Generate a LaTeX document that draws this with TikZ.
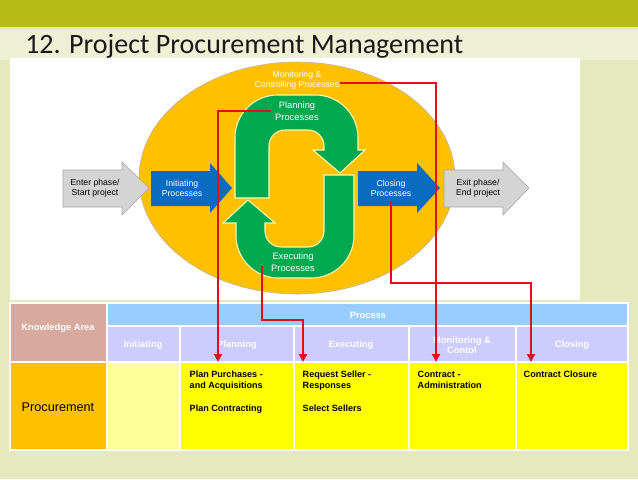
\documentclass[tikz,border=0pt]{standalone}
\usepackage{fontspec}
\setmainfont{Liberation Sans}
\newfontfamily\titlefont{Carlito}
\usetikzlibrary{arrows.meta}
\definecolor{olive}{HTML}{B5BA14}
\definecolor{bgl}{HTML}{E6E8BE}
\definecolor{ttl}{HTML}{EEF0D6}
\definecolor{ell}{HTML}{FFC000}
\definecolor{grn}{HTML}{00A84F}
\definecolor{blu}{HTML}{0A6CC0}
\definecolor{gry}{HTML}{D4D4D4}
\definecolor{rd}{HTML}{E0101A}
\definecolor{hdr}{HTML}{99CCFF}
\definecolor{lav}{HTML}{CCCCFF}
\definecolor{rose}{HTML}{D9A89E}
\definecolor{orn}{HTML}{FFC000}
\definecolor{pyl}{HTML}{FFFF99}
\definecolor{yl}{HTML}{FFFF00}
\begin{document}
\begin{tikzpicture}[x=0.75pt,y=-0.75pt,
 lbl/.style={align=center,font=\fontsize{6.5}{7.5}\selectfont},
 wl/.style={lbl,text=white},
 cell/.style={draw=white,line width=1.2pt},
 btxt/.style={anchor=north west,align=left,font=\fontsize{6.8}{8.5}\selectfont\bfseries},
 hw/.style={text=white,font=\fontsize{7}{8}\selectfont\bfseries,align=center},
 red/.style={draw=rd,line width=1.5pt},
 redarr/.style={red,-{Triangle[length=6pt,width=6pt]}}]
\useasboundingbox (0,0) rectangle (638,479);
\fill[bgl] (0,0) rectangle (638,479);
\fill[ttl] (0,30) rectangle (638,60);
\fill[olive] (0,0) rectangle (638,27);
\fill[white] (10,58) rectangle (580,300);
\node[anchor=base west,font=\titlefont\fontsize{21}{23}\selectfont,inner sep=0,text=black!90] (title) at (25,53) {12. Project Procurement Management};
% ellipse
\fill[ell,draw=gray!60] (297,178) ellipse [x radius=158,y radius=116];
% gray arrows
\fill[gry,draw=gray!70] (63,170) -- (122,170) -- (122,162) -- (149,188) -- (122,215) -- (122,207) -- (63,207) -- cycle;
\fill[gry,draw=gray!70] (444,170) -- (503,170) -- (503,162) -- (529,188) -- (503,215) -- (503,207) -- (444,207) -- cycle;
% blue arrows
\fill[blu] (151,171) -- (210,171) -- (210,163) -- (232,188) -- (210,213) -- (210,206) -- (151,206) -- cycle;
\fill[blu] (358,171) -- (417,171) -- (417,163) -- (440,188) -- (417,213) -- (417,206) -- (358,206) -- cycle;
% green
\filldraw[grn,draw=yellow!30,line width=0.8pt] (235,198) [rounded corners=32] -- (235,95) -- (358,95) [sharp corners] -- (358,150) -- (365,150) -- (340,173) -- (313,150) -- (324,150) [rounded corners=12] -- (324,130) -- (269,130) [sharp corners] -- (269,198) -- cycle;
\filldraw[grn,draw=yellow!30,line width=0.8pt] (324,175) -- (354,175) [rounded corners=32] -- (354,278) -- (236,278) [sharp corners] -- (236,223) -- (223,223) -- (248,200) -- (275,223) -- (265,223) [rounded corners=12] -- (265,247) -- (324,247) [sharp corners] -- cycle;
% labels
\node[wl] (mon) at (297,80) {Monitoring \&\\Controlling Processes};
\node[wl,font=\fontsize{7}{8.5}\selectfont] (pla) at (297,111) {Planning\\Processes};
\node[wl,font=\fontsize{7}{8.5}\selectfont] (exe) at (293,262) {Executing\\Processes};
\node[wl] (ini) at (182,188) {Initiating\\Processes};
\node[wl] (clo) at (391,188) {Closing\\Processes};
\node[lbl] (ent) at (95,188) {Enter phase/\\Start project};
\node[lbl] (exi) at (478,188) {Exit phase/\\End project};
% table
\fill[cell,fill=rose] (10,303) rectangle (107,362);
\fill[cell,fill=hdr] (107,303) rectangle (628,326);
\foreach \a/\b in {107/180,180/294,294/409,409/516,516/628}{
 \fill[cell,fill=lav] (\a,326) rectangle (\b,362);
 \fill[cell,fill=yl] (\a,362) rectangle (\b,450);}
\fill[cell,fill=pyl] (107,362) rectangle (180,450);
\fill[cell,fill=orn] (10,362) rectangle (107,450);
\node[hw] (ka) at (58,328) {Knowledge Area};
\node[hw] (proc) at (368,315) {Process};
\node[hw] (hi) at (143,345) {Initiating};
\node[hw] (hp) at (237,345) {Planning};
\node[hw] (he) at (351,345) {Executing};
\node[hw] (hm) at (462,345) {Monitoring \&\\Contol};
\node[hw] (hc) at (572,345) {Closing};
\node[font=\fontsize{9.5}{11}\selectfont] (pr) at (58,407) {Procurement};
\node[btxt] (c1) at (185,366) {Plan Purchases -\\and Acquisitions\\[9pt]Plan Contracting};
\node[btxt] (c2) at (298,366) {Request Seller -\\Responses\\[9pt]Select Sellers};
\node[btxt] (c3) at (413,366) {Contract -\\Administration};
\node[btxt] (c4) at (519,366) {Contract Closure};
% red connectors
\coordinate (a1) at (218,362);
\coordinate (a2) at (303,362);
\coordinate (a3) at (436,362);
\coordinate (a4) at (531,362);
\coordinate (e0) at (262,266);
\draw[redarr] (pla.west) -| (a1);
\draw[redarr] (e0) -- (262,320) -| (a2);
\draw[redarr] (mon.east) ++(-4,3) -| (a3);
\draw[redarr] (clo.south) -- (391,283) -| (a4);
\end{tikzpicture}
\end{document}
